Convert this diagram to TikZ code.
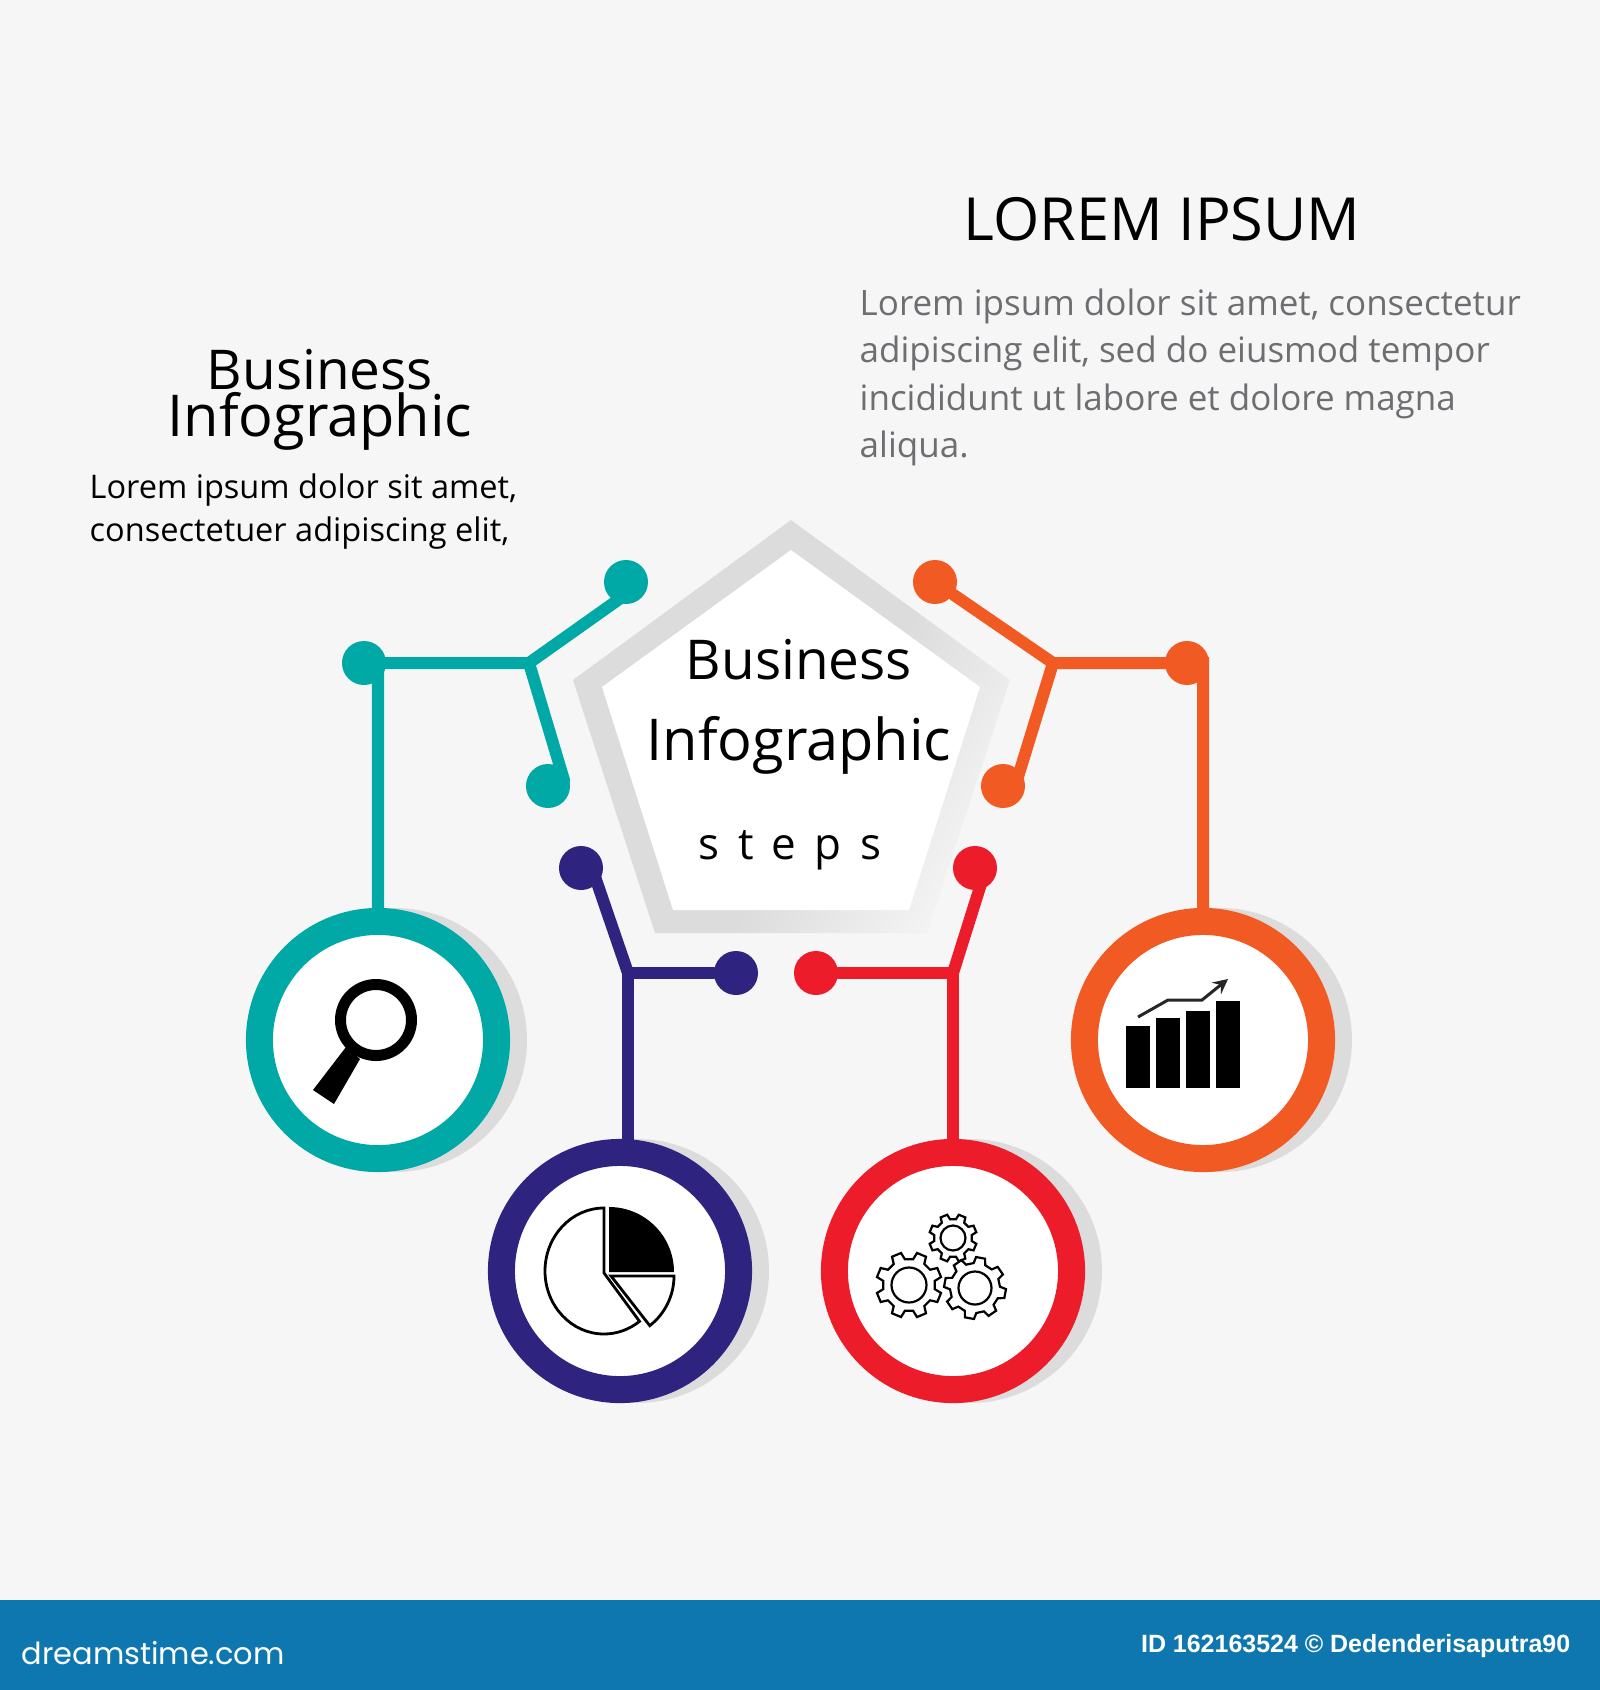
\documentclass[tikz,border=0pt]{standalone}
\usepackage{fontspec}
\setmainfont{Open Sans}
\newfontfamily\footfont{Poppins}
\newfontfamily\idfont{Liberation Sans}
\usetikzlibrary{arrows, positioning}
\definecolor{bgcol}{HTML}{F6F6F6}
\definecolor{shadowcol}{HTML}{DCDCDD}
\definecolor{bandcol}{HTML}{0E77AF}
\definecolor{tealcol}{HTML}{00A9A5}
\definecolor{indigocol}{HTML}{2E2480}
\definecolor{redcol}{HTML}{ED1C2A}
\definecolor{orangecol}{HTML}{F15A22}
\definecolor{greytext}{HTML}{6D6E71}
\pgfdeclarehorizontalshading{pentafade}{100bp}{color(0bp)=(shadowcol); color(56bp)=(shadowcol); color(78bp)=(bgcol); color(100bp)=(bgcol)}
\newcommand{\gearicon}[6]{\draw[gearline, shift={(#1,#2)}, rotate=#6] (-14:#4) \foreach \a in {0,45,...,315} {-- (\a-14:#4) -- (\a-9:#3) -- (\a+9:#3) -- (\a+14:#4)} -- cycle (0,0) circle (#5);}
\tikzset{
	ringnode/.style={circle, fill=white, line width=.27cm, minimum size=2.37cm, inner sep=0, draw=#1},
	dotnode/.style={circle, fill=#1, minimum size=.44cm, inner sep=0},
	wire/.style={line width=.12cm, line cap=round, line join=miter, draw=#1},
	ringshadow/.style={fill=shadowcol},
	gearline/.style={draw=black, fill=white, line width=.022cm},
	piece/.style={draw=black, fill=white, line width=.028cm},
	bigtext/.style={inner sep=0, font=\fontsize{16.4}{18}\selectfont},
}
\begin{document}
\begin{tikzpicture}[x=.01cm, y=-.01cm, >=stealth]
		\useasboundingbox (0,0) rectangle (1600,1690);
		\fill[bgcol] (0,0) rectangle (1600,1690);
		\fill[bandcol] (0,1600) rectangle (1600,1690);

		\shade[shading=pentafade, shading angle=-30] (791,520) -- (1010,680) -- (927,933) -- (655,933) -- (573,680) -- cycle;
		\fill[white] (791,550) -- (980,687) -- (909,910) -- (673,910) -- (602,687) -- cycle;

		\fill[ringshadow] (395,1040) circle (132); \fill[ringshadow] (637,1271) circle (132);
		\fill[ringshadow] (970,1271) circle (132); \fill[ringshadow] (1220,1040) circle (132);

		\node[ringnode=tealcol] (tealring) at (378,1040) {};
		\node[ringnode=indigocol] (indigoring) at (620,1271) {};
		\node[ringnode=redcol] (redring) at (953,1271) {};
		\node[ringnode=orangecol] (orangering) at (1203,1040) {};

		\node[dotnode=tealcol] (tealleft) at (364,663) {};
		\node[dotnode=tealcol] (tealtop) at (626,582) {};
		\node[dotnode=tealcol] (teallow) at (548,786) {};
		\node[dotnode=orangecol] (orangeright) at (1187,663) {};
		\node[dotnode=orangecol] (orangetop) at (935,582) {};
		\node[dotnode=orangecol] (orangelow) at (1003,786) {};
		\node[dotnode=indigocol] (indigoright) at (736,973) {};
		\node[dotnode=indigocol] (indigotop) at (581,868) {};
		\node[dotnode=redcol] (redleft) at (816,973) {};
		\node[dotnode=redcol] (redtop) at (975,868) {};

		\coordinate (tealcorner) at (378,663); \coordinate (tealbend) at (529,663); \coordinate (tealend) at (564,780); \coordinate (tealtip) at (625,595);
		\coordinate (orangecorner) at (1203,663); \coordinate (orangebend) at (1053,663); \coordinate (orangeend) at (1017,780);
		\coordinate (indigocorner) at (628,973); \coordinate (indigoend) at (592,868);
		\coordinate (redcorner) at (953,973); \coordinate (redend) at (986,868);

		\draw[wire=tealcol] (tealring.north) -- (tealcorner) -- (tealbend) -- (tealtip); \draw[wire=tealcol] (tealbend) -- (tealend);
		\draw[wire=orangecol] (orangering.north) -- (orangecorner) -- (orangebend) -- (orangetop); \draw[wire=orangecol] (orangebend) -- (orangeend);
		\draw[wire=indigocol] (indigoring.north -| indigocorner) -- (indigocorner) -- (indigoright); \draw[wire=indigocol] (indigocorner) -- (indigoend);
		\draw[wire=redcol] (redring.north) -- (redcorner) -- (redleft); \draw[wire=redcol] (redcorner) -- (redend);

		\draw[black, line width=.11cm] (376,1020) circle (35.5);
		\fill[black] (346,1047) -- (360,1059) -- (334,1104) -- (313,1090) -- cycle;

		\draw[piece] (604,1273) -- (604,1208) arc (-90:-307:59 and 63) -- cycle;
		\fill[black] (609,1272) -- (609,1207) arc (-90:0:65) -- cycle;
		\draw[piece] (611,1276) -- (674,1276) arc (0:52:63) -- cycle;

		\fill[black] (1126,1026) rectangle (1150,1088);
		\fill[black] (1156,1018) rectangle (1180,1088);
		\fill[black] (1186,1011) rectangle (1210,1088);
		\fill[black] (1216,1001) rectangle (1240,1088);
		\draw[->, black!85, line width=.03cm] (1138,1017) -- (1168,1000) -- (1202,1000) -- (1228,979);

		\gearicon{953}{1238}{19}{24}{12.5}{0}
		\gearicon{909}{1285}{26}{33}{17.5}{0}
		\gearicon{975}{1288}{25}{31}{16.5}{12}

		\node[anchor=west, inner sep=0, font=\fontsize{16.9}{18}\selectfont] (titlenode) at (963,219) {LOREM IPSUM};
		\node[anchor=north west, inner sep=0, align=left, text=greytext, font=\fontsize{9.95}{13.5}\selectfont] (paragraphnode) at (859,288) {Lorem ipsum dolor sit amet, consectetur\\adipiscing elit, sed do eiusmod tempor\\incididunt ut labore et dolore magna\\aliqua.};
		\node[bigtext, font=\fontsize{15.6}{18}\selectfont] (leftone) at (320,370) {Business};
		\node[bigtext] (lefttwo) at (320,421) {Infographic};
		\node[anchor=north west, inner sep=0, align=left, font=\fontsize{9.25}{12.2}\selectfont] (leftnote) at (89,473) {Lorem ipsum dolor sit amet,\\consectetuer adipiscing elit,};
		\node[bigtext, font=\fontsize{15.6}{18}\selectfont] (centerone) at (799,660) {Business};
		\node[bigtext] (centertwo) at (799,745) {Infographic};
		\node[inner sep=0, font=\fontsize{12.5}{14}\selectfont] (centerthree) at (790,850) {\spaceskip=5.2pt s t e p s};

		\node[anchor=west, inner sep=0, text=white, font=\footfont\fontsize{8.65}{11}\selectfont] (sitenode) at (21,1653) {dreamstime.com};
		\node[anchor=east, inner sep=0, text=white, font=\idfont\bfseries\fontsize{7.1}{8}\selectfont] (idnode) at (1571,1646) {ID 162163524 © Dedenderisaputra90};
	\end{tikzpicture}
\end{document}
